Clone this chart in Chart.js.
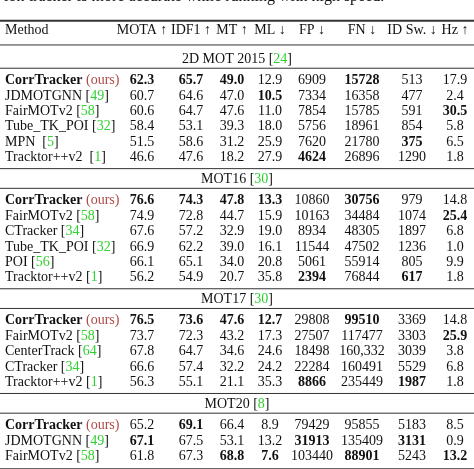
<!DOCTYPE html>
<html>
<head>
<meta charset="utf-8">
<script src="https://cdn.jsdelivr.net/npm/chart.js@4/dist/chart.umd.min.js"></script>
<style>
  body { margin: 0; background: #fff; }
  #wrap { width: 474px; height: 469px; position: relative; }
</style>
</head>
<body>
<div id="wrap"><canvas id="tableChart"></canvas></div>
<script>
// Table data
const headers = ['Method', 'MOTA ↑', 'IDF1 ↑', 'MT ↑', 'ML ↓', 'FP ↓', 'FN ↓', 'ID Sw. ↓', 'Hz ↑'];
const sections = [
  { name: '2D MOT 2015', ref: '24', rows: 6 },
  { name: 'MOT16', ref: '30', rows: 6 },
  { name: 'MOT17', ref: '30', rows: 5 },
  { name: 'MOT20', ref: '8', rows: 3 }
];
const methods = [
  'CorrTracker', 'JDMOTGNN', 'FairMOTv2', 'Tube_TK_POI', 'MPN ', 'Tracktor++v2 ',
  'CorrTracker', 'FairMOTv2', 'CTracker', 'Tube_TK_POI', 'POI', 'Tracktor++v2',
  'CorrTracker', 'FairMOTv2', 'CenterTrack', 'CTracker', 'Tracktor++v2',
  'CorrTracker', 'JDMOTGNN', 'FairMOTv2'
];
const methodRefs = [
  'ours', '49', '58', '32', '5', '1',
  'ours', '58', '34', '32', '56', '1',
  'ours', '58', '64', '34', '1',
  'ours', '49', '58'
];
const mota = ['62.3','60.7','60.6','58.4','51.5','46.6', '76.6','74.9','67.6','66.9','66.1','56.2', '76.5','73.7','67.8','66.6','56.3', '65.2','67.1','61.8'];
const idf1 = ['65.7','64.6','64.7','53.1','58.6','47.6', '74.3','72.8','57.2','62.2','65.1','54.9', '73.6','72.3','64.7','57.4','55.1', '69.1','67.5','67.3'];
const mt   = ['49.0','47.0','47.6','39.3','31.2','18.2', '47.8','44.7','32.9','39.0','34.0','20.7', '47.6','43.2','34.6','32.2','21.1', '66.4','53.1','68.8'];
const ml   = ['12.9','10.5','11.0','18.0','25.9','27.9', '13.3','15.9','19.0','16.1','20.8','35.8', '12.7','17.3','24.6','24.2','35.3', '8.9','13.2','7.6'];
const fp   = ['6909','7334','7854','5756','7620','4624', '10860','10163','8934','11544','5061','2394', '29808','27507','18498','22284','8866', '79429','31913','103440'];
const fn   = ['15728','16358','15785','18961','21780','26896', '30756','34484','48305','47502','55914','76844', '99510','117477','160,332','160491','235449', '95855','135409','88901'];
const idsw = ['513','477','591','854','375','1290', '979','1074','1897','1236','805','617', '3369','3303','3039','5529','1987', '5183','3131','5243'];
const hz   = ['17.9','2.4','30.5','5.8','6.5','1.8', '14.8','25.4','6.8','1.0','9.9','1.8', '14.8','25.9','3.8','6.8','1.8', '8.5','0.9','13.2'];
// bold cells as "row:col" (col 1 = MOTA ... 8 = Hz)
const boldCells = [
  '0:1','0:2','0:3','0:6','1:4','2:8','4:7','5:5',
  '6:1','6:2','6:3','6:4','6:6','7:8','11:5','11:7',
  '12:1','12:2','12:3','12:4','12:6','13:8','16:5','16:7',
  '17:2','18:1','18:5','18:7','19:3','19:4','19:6','19:8'
];

// layout (x in px units of the x scale, y in row units)
const colX = [5, 142, 191, 232, 270, 312, 362, 412, 455];
const FONT = 'Liberation Serif, Times New Roman, serif';
const GREEN = '#2fd12f', RED = '#b04848', INK = '#111';

const columns = [null, mota, idf1, mt, ml, fp, fn, idsw, hz];

// compute vertical positions
const headerY = 2.0;
const sectionY = [], rowY = [], lineY = [{ y: headerY - 0.65, w: 2 }, { y: headerY + 0.92, w: 1 }];
let y = headerY;
sections.forEach((s, i) => {
  y += (i === 0) ? 1.83 : 1.4;
  sectionY.push(y);
  if (i > 0) lineY.push({ y: y - 0.68, w: 1 });
  lineY.push({ y: y + 0.6, w: 1 });
  y += 1.4;
  for (let k = 0; k < s.rows; k++) { rowY.push(y); if (k < s.rows - 1) y += 1; }
});
lineY.push({ y: y + 0.85, w: 2.5 });

const tablePlugin = {
  id: 'tablePlugin',
  afterDraw(chart) {
    const ctx = chart.ctx, xs = chart.scales.x, ys = chart.scales.y;
    const X = v => xs.getPixelForValue(v), Y = v => ys.getPixelForValue(v);
    ctx.save();
    ctx.textBaseline = 'middle';

    // clipped caption text at top
    ctx.font = '16px ' + FONT;
    ctx.fillStyle = INK;
    ctx.textAlign = 'left';
    ctx.fillText('ion tracker is more accurate while running with high speed.', 4, Y(-0.2));

    // rules
    ctx.strokeStyle = '#333';
    lineY.forEach(l => {
      ctx.lineWidth = l.w;
      ctx.beginPath();
      ctx.moveTo(X(0), Y(l.y));
      ctx.lineTo(X(474), Y(l.y));
      ctx.stroke();
    });

    ctx.font = '14px ' + FONT;
    headers.forEach((h, j) => {
      ctx.textAlign = j === 0 ? 'left' : 'center';
      ctx.fillText(h, X(colX[j]), Y(headerY));
    });

    const drawParts = (parts, x, yy, align) => {
      let total = 0;
      parts.forEach(p => { ctx.font = p.f; total += ctx.measureText(p.t).width; });
      let cx = align === 'center' ? x - total / 2 : x;
      ctx.textAlign = 'left';
      parts.forEach(p => {
        ctx.font = p.f; ctx.fillStyle = p.c;
        ctx.fillText(p.t, cx, yy);
        cx += ctx.measureText(p.t).width;
      });
      ctx.fillStyle = INK;
    };
    const reg = '14px ' + FONT, bold = 'bold 14px ' + FONT;
    sections.forEach((s, i) => {
      drawParts([{ t: s.name + ' [', f: reg, c: INK }, { t: s.ref, f: reg, c: GREEN }, { t: ']', f: reg, c: INK }],
        X(237), Y(sectionY[i]), 'center');
    });

    rowY.forEach((ry, i) => {
      const yy = Y(ry);
      if (methodRefs[i] === 'ours') {
        drawParts([{ t: methods[i], f: bold, c: INK }, { t: ' (ours)', f: reg, c: RED }], X(colX[0]), yy, 'left');
      } else {
        const name = methods[i].trim();
        const gap = methods[i].endsWith(' ') ? '  [' : ' [';
        drawParts([{ t: name + gap, f: reg, c: INK }, { t: methodRefs[i], f: reg, c: GREEN }, { t: ']', f: reg, c: INK }],
          X(colX[0]), yy, 'left');
      }
      for (let j = 1; j < columns.length; j++) {
        ctx.font = boldCells.includes(i + ':' + j) ? bold : reg;
        ctx.textAlign = 'center';
        ctx.fillText(columns[j][i], X(colX[j]), yy);
      }
    });
    ctx.restore();
  }
};

new Chart(document.getElementById('tableChart'), {
  type: 'scatter',
  data: { datasets: [{ data: [], pointRadius: 0 }] },
  options: {
    responsive: true,
    maintainAspectRatio: false,
    animation: false,
    layout: { padding: 0 },
    plugins: { legend: { display: false }, tooltip: { enabled: false } },
    scales: {
      x: { type: 'linear', min: 0, max: 474, display: false },
      y: { type: 'linear', min: 0, max: 469 / 15.4, reverse: true, display: false }
    }
  },
  plugins: [tablePlugin]
});
</script>
</body>
</html>
